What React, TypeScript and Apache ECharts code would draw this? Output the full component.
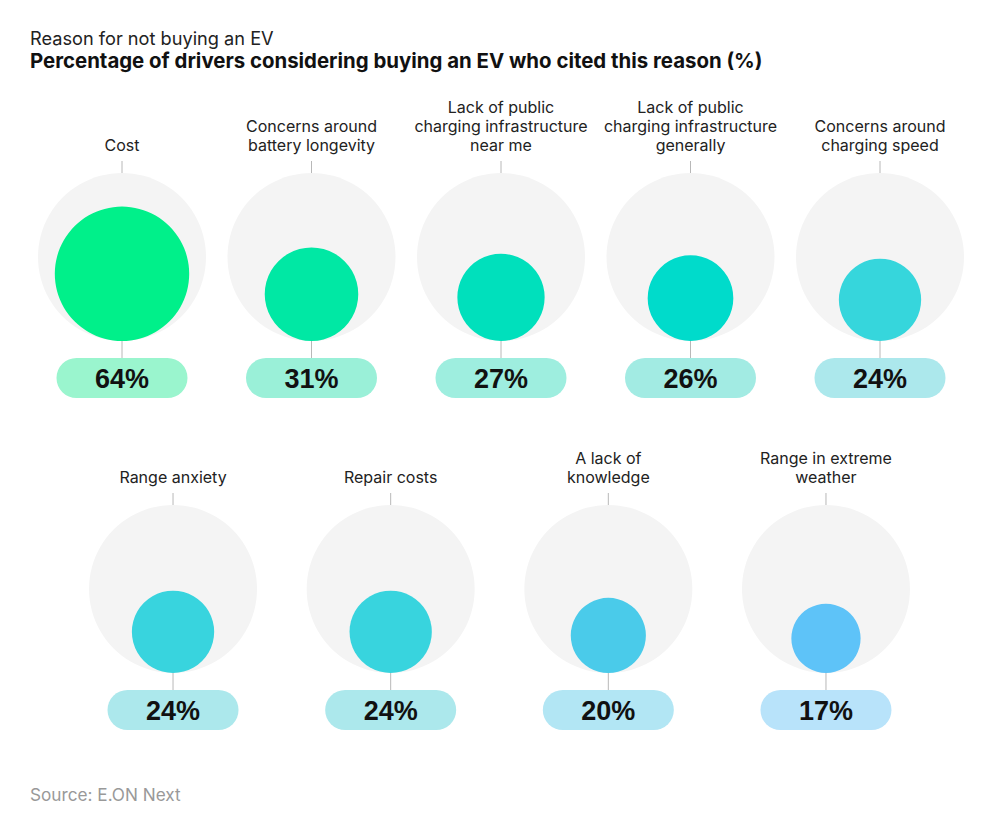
import React, { useEffect, useRef } from "react";
import * as echarts from "echarts";

const row1Labels = [
  "Cost",
  "Concerns around\nbattery longevity",
  "Lack of public\ncharging infrastructure\nnear me",
  "Lack of public\ncharging infrastructure\ngenerally",
  "Concerns around\ncharging speed",
];
const row1Values = [64, 31, 27, 26, 24];
const row1Colors = ["#00F08A", "#00E8A4", "#00E0BC", "#00DBCB", "#36D6DC"];
const row1PillColors = ["#9AF5CE", "#9AF0D8", "#9EEEDF", "#A2EBE3", "#ACE8EC"];

const row2Labels = [
  "Range anxiety",
  "Repair costs",
  "A lack of\nknowledge",
  "Range in extreme\nweather",
];
const row2Values = [24, 24, 20, 17];
const row2Colors = ["#38D4DE", "#38D4DE", "#4ACBEA", "#5EC3F8"];
const row2PillColors = ["#ACE8EC", "#ACE8EC", "#B2E6F4", "#B8E3FA"];

const FONT = "Inter, 'Liberation Sans', Arial, sans-serif";
const NUM_FONT = "'Liberation Sans', Arial, sans-serif";

function makeRender(labels: string[], colors: string[], pills: string[]) {
  return (params: any, api: any) => {
    const i = api.value(0);
    const v = api.value(1);
    const [x, bottom] = api.coord([i, 0]);
    const top = api.coord([i, 100])[1];
    const R = (bottom - top) / 2;
    const r = R * Math.sqrt(v / 100);
    return {
      type: "group",
      children: [
        {
          type: "line",
          shape: { x1: x, y1: top - 12, x2: x, y2: top },
          style: { stroke: "#b8b8b8", lineWidth: 1 },
        },
        {
          type: "circle",
          shape: { cx: x, cy: bottom - R, r: R },
          style: { fill: "#F4F4F4" },
        },
        {
          type: "circle",
          shape: { cx: x, cy: bottom - r, r: r },
          style: { fill: colors[i] },
        },
        {
          type: "line",
          shape: { x1: x, y1: bottom, x2: x, y2: bottom + 17 },
          style: { stroke: "#b8b8b8", lineWidth: 1 },
        },
        {
          type: "rect",
          shape: { x: x - 65.5, y: bottom + 17, width: 131, height: 40, r: 20 },
          style: { fill: pills[i] },
        },
        {
          type: "text",
          x: x,
          y: bottom + 38,
          style: {
            text: v + "%",
            fill: "#111",
            font: `bold 27px ${NUM_FONT}`,
            align: "center",
            verticalAlign: "middle",
          },
        },
        {
          type: "text",
          x: x,
          y: top - 19,
          style: {
            text: labels[i],
            fill: "#222",
            font: `16px ${FONT}`,
            lineHeight: 19,
            align: "center",
            verticalAlign: "bottom",
          },
        },
      ],
    };
  };
}

export default function App() {
  const ref = useRef<HTMLDivElement>(null);
  useEffect(() => {
    if (!ref.current) return;
    const chart = echarts.init(ref.current, null, { renderer: "svg" });
    const option: any = {
      animation: false,
      backgroundColor: "#ffffff",
      grid: [
        { left: 27.25, width: 947.5, top: 173, height: 168 },
        { left: 64.2, width: 870.6, top: 505, height: 168 },
      ],
      xAxis: [
        { gridIndex: 0, type: "category", data: row1Labels, show: false },
        { gridIndex: 1, type: "category", data: row2Labels, show: false },
      ],
      yAxis: [
        { gridIndex: 0, type: "value", min: 0, max: 100, show: false },
        { gridIndex: 1, type: "value", min: 0, max: 100, show: false },
      ],
      graphic: [
        {
          type: "text",
          x: 30,
          y: 38,
          style: {
            text: "Reason for not buying an EV",
            fill: "#222",
            font: `18.2px ${FONT}`,
            verticalAlign: "middle",
          },
        },
        {
          type: "text",
          x: 30,
          y: 60,
          style: {
            text: "Percentage of drivers considering buying an EV who cited this reason (%)",
            fill: "#111",
            font: `bold 20.4px ${FONT}`,
            verticalAlign: "middle",
          },
        },
        {
          type: "text",
          x: 30,
          y: 794,
          style: {
            text: "Source: E.ON Next",
            fill: "#999",
            font: `17.2px ${FONT}`,
            verticalAlign: "middle",
          },
        },
      ],
      series: [
        {
          type: "custom",
          xAxisIndex: 0,
          yAxisIndex: 0,
          renderItem: makeRender(row1Labels, row1Colors, row1PillColors),
          data: row1Values.map((v, i) => [i, v]),
        },
        {
          type: "custom",
          xAxisIndex: 1,
          yAxisIndex: 1,
          renderItem: makeRender(row2Labels, row2Colors, row2PillColors),
          data: row2Values.map((v, i) => [i, v]),
        },
      ],
    };
    chart.setOption(option);
    return () => chart.dispose();
  }, []);
  return (
    <div
      ref={ref}
      style={{ position: "fixed", left: 0, top: 0, width: 1000, height: 830 }}
    />
  );
}
